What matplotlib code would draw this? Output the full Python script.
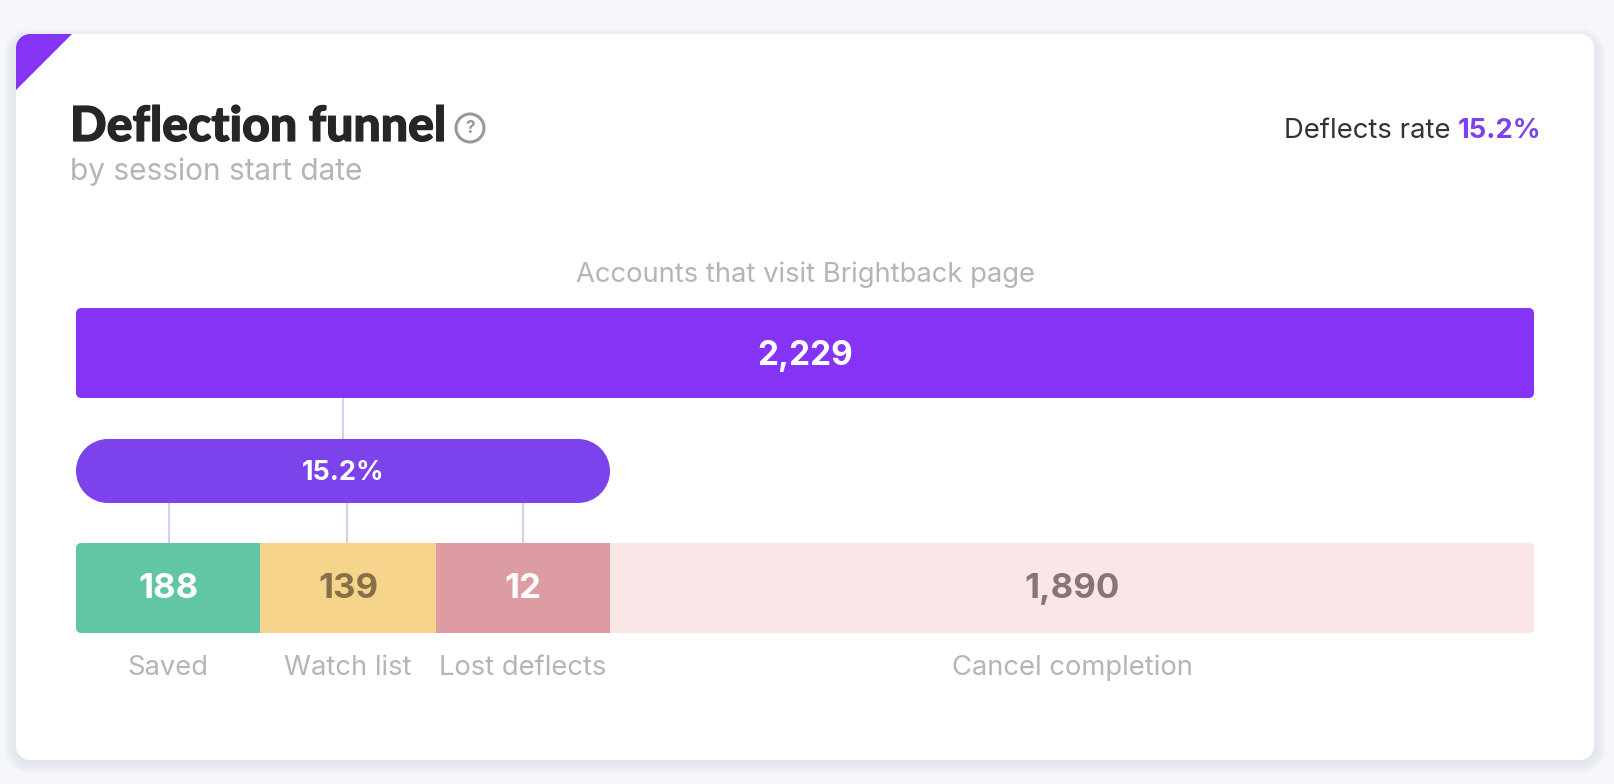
import matplotlib
matplotlib.use("Agg")
import matplotlib.pyplot as plt
import matplotlib.patheffects as pe
from matplotlib.patches import PathPatch, Polygon, Circle
from matplotlib.path import Path

# ---- data ----
title = "Deflection funnel"
subtitle = "by session start date"
rate_label = "Deflects rate"
rate_value = "15.2%"
top_label = "Accounts that visit Brightback page"
top_value = "2,229"
pill_value = "15.2%"
categories = ["Saved", "Watch list", "Lost deflects", "Cancel completion"]
values = [188, 139, 12, 1890]
# the source chart does not size its segments by value: these are its drawn widths
drawn_widths = [184, 176, 174, 924]
seg_colors = ["#61c6a5", "#f7d48b", "#dd9ca1", "#fae6e6"]
val_colors = ["#ffffff", "#86704a", "#ffffff", "#857575"]

W, H = 1614, 784
PURPLE = "#8534f6"
PILL = "#7c42ec"
GREY = "#b5b5b5"
LINE = "#d5cdeb"
SANS = "Inter"

fig = plt.figure(figsize=(W / 100, H / 100), dpi=100, facecolor="#f6f7fb")
ax = fig.add_axes([0, 0, 1, 1])
ax.set_xlim(0, W)
ax.set_ylim(H, 0)
ax.axis("off")


def rrect(x0, y0, x1, y1, r, **kw):
    k = r * 0.5523
    v = [(x0 + r, y0), (x1 - r, y0),
         (x1 - r + k, y0), (x1, y0 + r - k), (x1, y0 + r),
         (x1, y1 - r),
         (x1, y1 - r + k), (x1 - r + k, y1), (x1 - r, y1),
         (x0 + r, y1),
         (x0 + r - k, y1), (x0, y1 - r + k), (x0, y1 - r),
         (x0, y0 + r),
         (x0, y0 + r - k), (x0 + r - k, y0), (x0 + r, y0),
         (x0 + r, y0)]
    c = [Path.MOVETO, Path.LINETO,
         Path.CURVE4, Path.CURVE4, Path.CURVE4,
         Path.LINETO,
         Path.CURVE4, Path.CURVE4, Path.CURVE4,
         Path.LINETO,
         Path.CURVE4, Path.CURVE4, Path.CURVE4,
         Path.LINETO,
         Path.CURVE4, Path.CURVE4, Path.CURVE4,
         Path.CLOSEPOLY]
    return PathPatch(Path(v, c), linewidth=0, **kw)


# card shadow
for i in range(12, 0, -1):
    ax.add_patch(rrect(16 - i, 34 - i + 6, 1594 + i, 760 + i + 2, 14 + i,
                       facecolor="#6a6e78", alpha=0.006, zorder=1))
card = rrect(16, 34, 1594, 760, 14, facecolor="white", zorder=2)
ax.add_patch(card)
corner = Polygon([(16, 34), (72, 34), (16, 90)], closed=True, facecolor=PURPLE, linewidth=0, zorder=3)
ax.add_patch(corner)
corner.set_clip_path(card)

# header
ax.text(70, 141, title, fontfamily="Lato", fontweight="black", fontsize=34.7, color="#262626",
        va="baseline", ha="left", zorder=5,
        path_effects=[pe.withStroke(linewidth=0.9, foreground="#262626")])
ax.add_patch(Circle((470, 128), 14, facecolor="none", edgecolor="#999999", linewidth=2.2, zorder=5))
ax.text(470, 128.5, "?", fontfamily=SANS, fontweight="bold", fontsize=12.5, color="#999999",
        ha="center", va="center", zorder=5)
ax.text(70, 180, subtitle, fontfamily=SANS, fontsize=21.5, color=GREY, va="baseline", zorder=5)

rv = ax.text(1541, 138, rate_value, fontfamily=SANS, fontweight="bold", fontsize=19.8, color=PILL,
             ha="right", va="baseline", zorder=5)
fig.canvas.draw()
rv_left = rv.get_window_extent().x0
ax.text(rv_left - 7, 138, rate_label, fontfamily=SANS, fontsize=19.8, color="#333333",
        ha="right", va="baseline", zorder=5)

# funnel geometry
X0, X1 = 76, 1534
ax.text((X0 + X1) / 2, 275, top_label, fontfamily=SANS, fontsize=19.7, color=GREY,
        ha="center", va="center", zorder=5)

# top bar
ax.add_patch(rrect(X0, 308, X1, 398, 5, facecolor=PURPLE, zorder=4))
ax.text((X0 + X1) / 2, 356, top_value, fontfamily=SANS, fontweight="bold", fontsize=24, color="white",
        ha="center", va="center", zorder=5)

# segments
lefts = [X0]
for w in drawn_widths[:-1]:
    lefts.append(lefts[-1] + w)
centers = [l + w / 2 for l, w in zip(lefts, drawn_widths)]
pill_x1 = lefts[3]

# connectors
ax.vlines((X0 + pill_x1) / 2 - 0.5, 398, 439, color=LINE, linewidth=1.4, zorder=3)
ax.vlines([centers[0] + 1, centers[1] - 1, centers[2]], 503, 543, color=LINE, linewidth=1.4, zorder=3)

# pill
ax.add_patch(rrect(X0, 439, pill_x1, 503, 32, facecolor=PILL, zorder=4))
ax.text((X0 + pill_x1) / 2, 473, pill_value, fontfamily=SANS, fontweight="bold", fontsize=19.5, color="white",
        ha="center", va="center", zorder=5)

clip = rrect(X0, 543, X1, 633, 5, facecolor="none")
ax.add_patch(clip)
bars = ax.barh([588] * 4, drawn_widths, left=lefts, height=90, color=seg_colors, linewidth=0, zorder=4)
for b in bars:
    b.set_clip_path(clip)
for c, v, col, name in zip(centers, values, val_colors, categories):
    ax.text(c, 589, f"{v:,}", fontfamily=SANS, fontweight="bold", fontsize=25, color=col,
            ha="center", va="center", zorder=5)
    ax.text(c, 668, name, fontfamily=SANS, fontsize=19.7, color=GREY, ha="center", va="center", zorder=5)
ax.set_xlim(0, W)
ax.set_ylim(H, 0)

fig.savefig("out.png", dpi=100, facecolor=fig.get_facecolor())
